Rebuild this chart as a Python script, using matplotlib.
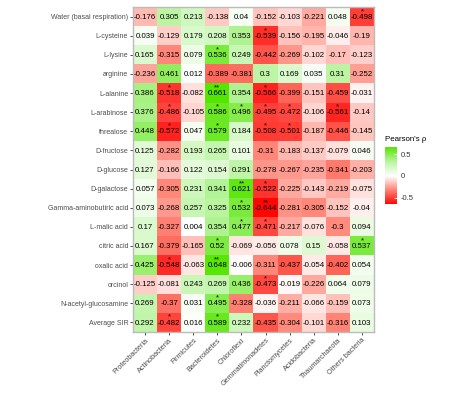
import numpy as np
import matplotlib
matplotlib.use('Agg')
import matplotlib.pyplot as plt
from matplotlib.colors import LinearSegmentedColormap, Normalize

plt.rcParams['font.family'] = ['Liberation Sans', 'DejaVu Sans']

substrates = ['Water (basal respiration)', 'L-cysteine', 'L-lysine', 'arginine',
              'L-alanine', 'L-arabinose', 'threalose', 'D-fructose', 'D-glucose',
              'D-galactose', 'Gamma-aminobutiric acid', 'L-malic acid',
              'citric acid', 'oxalic acid', 'orcinol', 'N-acetyl-glucosamine',
              'Average SIR']
taxa = ['Proteobacteria', 'Actinobacteria', 'Firmicutes', 'Bacteroidetes',
        'Chloroflexi', 'Gemmatimonadetes', 'Planctomycetes', 'Acidobacteria',
        'Thaumarchaeota', 'Others bacteria']

rho = np.array([
    [-0.176, 0.305, 0.213, -0.138, 0.04, -0.152, -0.103, -0.221, 0.048, -0.498],
    [0.039, -0.129, 0.179, 0.208, 0.353, -0.539, -0.156, -0.195, -0.046, -0.19],
    [0.165, -0.315, 0.079, 0.536, 0.249, -0.442, -0.269, -0.102, -0.17, -0.123],
    [-0.236, 0.461, 0.012, -0.389, -0.381, 0.3, 0.169, 0.035, 0.31, -0.252],
    [0.386, -0.518, -0.082, 0.661, 0.354, -0.566, -0.399, -0.151, -0.459, -0.031],
    [0.376, -0.486, -0.105, 0.586, 0.496, -0.495, -0.472, -0.106, -0.561, -0.14],
    [0.448, -0.572, 0.047, 0.579, 0.184, -0.508, -0.501, -0.187, -0.446, -0.145],
    [0.125, -0.282, 0.193, 0.265, 0.101, -0.31, -0.183, -0.137, -0.079, 0.046],
    [0.127, -0.166, 0.122, 0.154, 0.291, -0.278, -0.267, -0.235, -0.341, -0.203],
    [0.057, -0.305, 0.231, 0.341, 0.621, -0.522, -0.225, -0.143, -0.219, -0.075],
    [0.073, -0.268, 0.257, 0.325, 0.532, -0.644, -0.281, -0.305, -0.152, -0.04],
    [0.17, -0.327, 0.004, 0.354, 0.477, -0.471, -0.217, -0.076, -0.3, 0.094],
    [0.167, -0.379, -0.165, 0.52, -0.069, -0.056, 0.078, 0.15, -0.058, 0.537],
    [0.425, -0.548, -0.063, 0.648, -0.006, -0.311, -0.437, -0.054, -0.402, 0.054],
    [-0.125, -0.081, 0.243, 0.269, 0.436, -0.473, -0.019, -0.226, 0.064, 0.079],
    [0.269, -0.37, 0.031, 0.495, -0.328, -0.036, -0.211, -0.066, -0.159, 0.073],
    [0.292, -0.482, 0.016, 0.589, 0.232, -0.435, -0.304, -0.101, -0.316, 0.103],
])

# significance marks
stars = np.full(rho.shape, '', dtype=object)
sig = {
    (0, 9): '*', (1, 5): '*', (2, 3): '*',
    (4, 1): '*', (4, 3): '**', (4, 5): '*',
    (5, 1): '*', (5, 3): '*', (5, 4): '*', (5, 5): '*', (5, 6): '*', (5, 8): '*',
    (6, 1): '*', (6, 3): '*', (6, 5): '*', (6, 6): '*',
    (9, 4): '**', (9, 5): '*',
    (10, 4): '*', (10, 5): '**',
    (11, 4): '*', (11, 5): '*',
    (12, 3): '*', (12, 9): '*',
    (13, 1): '*', (13, 3): '**',
    (14, 5): '*',
    (15, 3): '*',
    (16, 1): '*', (16, 3): '*',
}
for (i, j), s in sig.items():
    stars[i, j] = s

cmap = LinearSegmentedColormap.from_list(
    'rwg', [(0.0, '#FF0000'), (0.25, '#FF8072'), (0.5, '#FFFFFF'),
            (0.75, '#B8F49E'), (1.0, '#55E600')])
vmax = np.abs(rho).max()
norm = Normalize(-vmax, vmax)

fig = plt.figure(figsize=(4.74, 3.95), dpi=100)
ax = fig.add_axes([0.2806, 0.1595, 0.5084, 0.8225])

im = ax.imshow(rho, cmap=cmap, norm=norm, aspect='auto', interpolation='nearest')

for i in range(rho.shape[0]):
    for j in range(rho.shape[1]):
        ax.text(j, i + 0.03, f'{rho[i, j]:g}', ha='center', va='center', fontsize=5.7)
        if stars[i, j]:
            ax.text(j, i - 0.27, stars[i, j], ha='center', va='center', fontsize=5.5)

ax.set_xticks(range(len(taxa)))
ax.set_xticklabels(taxa, rotation=45, ha='right', rotation_mode='anchor',
                   fontsize=5.2, color='#4D4D4D')
ax.set_yticks(range(len(substrates)))
ax.set_yticklabels(substrates, fontsize=5.0, color='#4D4D4D')
ax.tick_params(length=2, width=0.6, color='#333333', pad=1.5)
for sp in ax.spines.values():
    sp.set_color('#BBBBBB')
    sp.set_linewidth(1.0)

cax = fig.add_axes([0.812, 0.4835, 0.0255, 0.1443])
cb = fig.colorbar(im, cax=cax)
cb.ax.set_ylim(rho.min(), rho.max())
cb.set_ticks([-0.5, 0, 0.5])
cb.set_ticklabels(['-0.5', '0', '0.5'])
cb.outline.set_visible(False)
cb.ax.tick_params(length=2.5, width=0.6, color='white', direction='in',
                  labelsize=5.5, labelcolor='#333333', pad=3)
cb.ax.set_title("Pearson's \u03c1", fontsize=5.7, loc='left', pad=4)

plt.savefig('out.png', dpi=100)
plt.close()
